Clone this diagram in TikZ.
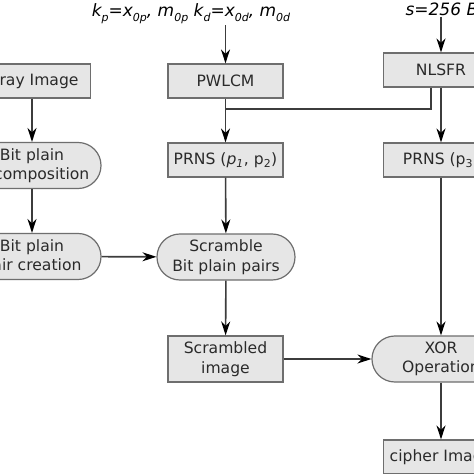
\documentclass[tikz,border=0pt]{standalone}
\usepackage{fontspec}
\setmainfont{DejaVu Sans}
\usetikzlibrary{arrows.meta,calc}
\definecolor{boxfill}{HTML}{E6E6E6}
\definecolor{boxline}{HTML}{6E6E6E}
\definecolor{linec}{HTML}{3C3C3C}
\definecolor{txt}{HTML}{2A2A2A}
\newcommand\lsub[1]{\raisebox{-0.28em}{\fontsize{11}{11}\selectfont #1}}
\begin{document}
\begin{tikzpicture}[x=1pt,y=-1pt,
  box/.style={draw=boxline, fill=boxfill, line width=1.2pt, minimum width=115pt, minimum height=34pt, inner sep=0pt, font=\fontsize{15.6}{19.5}\selectfont, text=txt, align=center},
  pill/.style={box, minimum width=138pt, minimum height=46pt, rounded corners=22.9pt},
  arr/.style={draw=linec, line width=1.6pt, -{Stealth[length=14pt,width=9pt,inset=4.5pt,color=black]}},
  ln/.style={draw=linec, line width=1.6pt},
  lab/.style={font=\fontsize{17}{20}\selectfont\itshape, text=black, inner sep=1pt}]
\useasboundingbox (0,0) rectangle (474,474);
\clip (0,0) rectangle (474,474);
\fill[white] (0,0) rectangle (474,474);
% nodes
\node[box] (gray) at (33,81) {Gray Image};
\node[pill] (bpd) at (32,165.5) {Bit plain\\decomposition};
\node[pill] (bpp) at (32,256.5) {Bit plain\\pair creation};
\node[box] (pwlcm) at (225.5,81) {PWLCM};
\node[box] (prns12) at (225.5,160) {PRNS (\textit{p\textsubscript{1}}, p\textsubscript{2})};
\node[pill] (scr) at (226,257) {Scramble\\Bit plain pairs};
\node[box, minimum height=46pt] (scrimg) at (225.5,359) {Scrambled\\image};
\node[box] (nlsfr) at (441,70) {NLSFR};
\node[box] (prns3) at (441,160) {PRNS (p\textsubscript{3})};
\node[pill] (xor) at (441,359) {XOR\\Operation};
\node[box] (ciph) at (441,457) {cipher Image};
\node[lab] (klab) at (191,14) {k\lsub{p}=x\lsub{0p}, m\lsub{0p} k\lsub{d}=x\lsub{0d}, m\lsub{0d}};
\node[lab] (slab) at (452,9) {s=256 Bits};
% connectors
\draw[arr] (klab.south -| pwlcm.north) -- (pwlcm.north);
\draw[arr] (slab.south -| nlsfr.north) -- (nlsfr.north);
\draw[arr] (gray.south -| bpd.north) -- (bpd);
\draw[arr] (bpd) -- (bpp);
\draw[arr] (bpp) -- (scr);
\draw[arr] (pwlcm) -- (prns12);
\draw[ln] ([xshift=-10pt]nlsfr.south) |- (pwlcm.south |- 0,109);
\draw[arr] (prns12) -- (scr);
\draw[arr] (scr) -- (scrimg);
\draw[arr] (nlsfr) -- (prns3);
\draw[arr] (prns3) -- (xor);
\draw[arr] (scrimg) -- (xor);
\draw[arr] (xor) -- (ciph);
\end{tikzpicture}
\end{document}
